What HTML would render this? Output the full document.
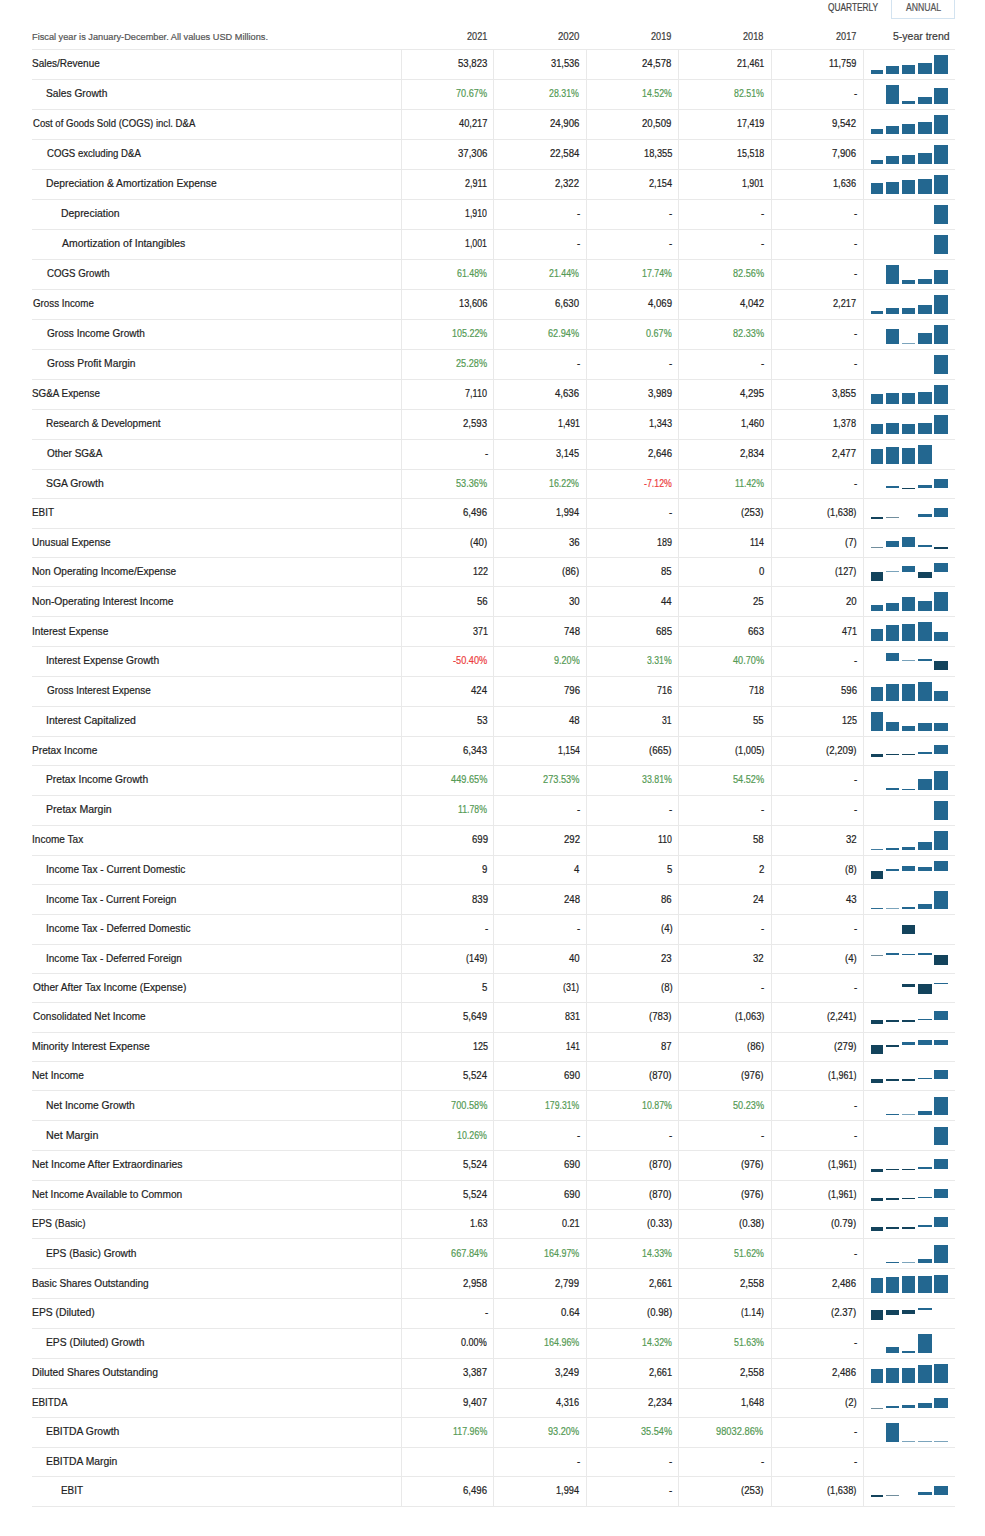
<!DOCTYPE html><html><head><meta charset="utf-8"><style>
html,body{margin:0;padding:0;background:#fff;}
body{width:985px;height:1536px;position:relative;overflow:hidden;font-family:"Liberation Sans",sans-serif;}
.t{position:absolute;white-space:nowrap;line-height:12px;font-size:11.2px;color:#222;transform-origin:0 50%;-webkit-text-stroke:0.2px currentColor;}
.l{transform-origin:0 50%;}
.r{transform-origin:100% 50%;text-align:right;}
.h{position:absolute;height:1px;background:#e9e9e9;left:32px;width:923px;}
.v{position:absolute;width:1px;background:#e9e9e9;}
.b{position:absolute;}
</style></head><body>

<div class="t" style="top:2px;left:827.50px;font-size:10px;color:#444;transform:scaleX(0.8333);-webkit-text-stroke:0.2px #444;">QUARTERLY</div>
<div style="position:absolute;left:891px;top:-2px;border:1px solid #d3e3f0;box-sizing:border-box;width:64px;height:20.5px"></div>
<div class="t" style="top:2px;left:906.00px;font-size:10px;color:#555;transform:scaleX(0.8650);-webkit-text-stroke:0.2px #555;">ANNUAL</div>
<div class="t" style="top:31px;left:32.04px;font-size:9.6px;color:#555;transform:scaleX(0.9602);">Fiscal year is January-December. All values USD Millions.</div>
<div class="t" style="top:30px;left:466.76px;color:#3a3a3a;transform:scaleX(0.8175);">2021</div>
<div class="t" style="top:30px;left:558.00px;color:#3a3a3a;transform:scaleX(0.8600);">2020</div>
<div class="t" style="top:30px;left:651.26px;color:#3a3a3a;transform:scaleX(0.8175);">2019</div>
<div class="t" style="top:30px;left:743.36px;color:#3a3a3a;transform:scaleX(0.8175);">2018</div>
<div class="t" style="top:30px;left:835.76px;color:#3a3a3a;transform:scaleX(0.8175);">2017</div>
<div class="t" style="top:30px;left:892.66px;color:#3a3a3a;transform:scaleX(0.9390);">5-year trend</div>
<div class="h" style="top:49px"></div>
<div class="h" style="top:79px"></div>
<div class="h" style="top:109px"></div>
<div class="h" style="top:139px"></div>
<div class="h" style="top:169px"></div>
<div class="h" style="top:199px"></div>
<div class="h" style="top:229px"></div>
<div class="h" style="top:259px"></div>
<div class="h" style="top:289px"></div>
<div class="h" style="top:319px"></div>
<div class="h" style="top:349px"></div>
<div class="h" style="top:379px"></div>
<div class="h" style="top:409px"></div>
<div class="h" style="top:439px"></div>
<div class="h" style="top:469px"></div>
<div class="h" style="top:498px"></div>
<div class="h" style="top:528px"></div>
<div class="h" style="top:557px"></div>
<div class="h" style="top:586px"></div>
<div class="h" style="top:616px"></div>
<div class="h" style="top:646px"></div>
<div class="h" style="top:676px"></div>
<div class="h" style="top:706px"></div>
<div class="h" style="top:736px"></div>
<div class="h" style="top:765px"></div>
<div class="h" style="top:795px"></div>
<div class="h" style="top:825px"></div>
<div class="h" style="top:855px"></div>
<div class="h" style="top:884px"></div>
<div class="h" style="top:914px"></div>
<div class="h" style="top:944px"></div>
<div class="h" style="top:973px"></div>
<div class="h" style="top:1002px"></div>
<div class="h" style="top:1032px"></div>
<div class="h" style="top:1061px"></div>
<div class="h" style="top:1090px"></div>
<div class="h" style="top:1120px"></div>
<div class="h" style="top:1150px"></div>
<div class="h" style="top:1180px"></div>
<div class="h" style="top:1209px"></div>
<div class="h" style="top:1238px"></div>
<div class="h" style="top:1268px"></div>
<div class="h" style="top:1298px"></div>
<div class="h" style="top:1328px"></div>
<div class="h" style="top:1358px"></div>
<div class="h" style="top:1388px"></div>
<div class="h" style="top:1417px"></div>
<div class="h" style="top:1447px"></div>
<div class="h" style="top:1476px"></div>
<div class="h" style="top:1506px"></div>
<div class="v" style="left:401px;top:49px;height:1457px"></div>
<div class="v" style="left:493px;top:49px;height:1457px"></div>
<div class="v" style="left:586px;top:49px;height:1457px"></div>
<div class="v" style="left:678px;top:49px;height:1457px"></div>
<div class="v" style="left:771px;top:49px;height:1457px"></div>
<div class="v" style="left:863px;top:49px;height:1457px"></div>
<div class="t" style="top:57px;left:31.91px;transform:scaleX(0.8933);">Sales/Revenue</div>
<div class="t" style="top:57px;left:457.96px;transform:scaleX(0.8600);">53,823</div>
<div class="t" style="top:57px;left:551.31px;transform:scaleX(0.8291);">31,536</div>
<div class="t" style="top:57px;left:642.46px;transform:scaleX(0.8600);">24,578</div>
<div class="t" style="top:57px;left:736.66px;transform:scaleX(0.7982);">21,461</div>
<div class="t" style="top:57px;left:829.21px;transform:scaleX(0.8180);">11,759</div>
<div class="b" style="left:870.90px;width:12.10px;top:69.78px;height:4.10px;background:#236790;"></div>
<div class="b" style="left:886.10px;width:13.20px;top:66.40px;height:7.48px;background:#236790;"></div>
<div class="b" style="left:902.10px;width:13.30px;top:65.31px;height:8.56px;background:#236790;"></div>
<div class="b" style="left:918.30px;width:13.30px;top:62.89px;height:10.99px;background:#236790;"></div>
<div class="b" style="left:934.40px;width:13.30px;top:55.12px;height:18.75px;background:#236790;"></div>
<div class="t" style="top:87px;left:45.99px;transform:scaleX(0.9136);">Sales Growth</div>
<div class="t" style="top:87px;left:456.11px;color:#549a54;transform:scaleX(0.8181);">70.67%</div>
<div class="t" style="top:87px;left:549.47px;color:#549a54;transform:scaleX(0.7902);">28.31%</div>
<div class="t" style="top:87px;left:641.67px;color:#549a54;transform:scaleX(0.7902);">14.52%</div>
<div class="t" style="top:87px;left:733.77px;color:#549a54;transform:scaleX(0.7902);">82.51%</div>
<div class="t" style="top:87px;left:853.62px;transform:scaleX(0.8600);">-</div>
<div class="b" style="left:886.10px;width:13.20px;top:85.12px;height:18.75px;background:#236790;"></div>
<div class="b" style="left:902.10px;width:13.30px;top:100.58px;height:3.30px;background:#236790;"></div>
<div class="b" style="left:918.30px;width:13.30px;top:97.44px;height:6.43px;background:#236790;"></div>
<div class="b" style="left:934.40px;width:13.30px;top:87.82px;height:16.06px;background:#236790;"></div>
<div class="t" style="top:117px;left:32.80px;transform:scaleX(0.8558);">Cost of Goods Sold (COGS) incl. D&amp;A</div>
<div class="t" style="top:117px;left:459.01px;transform:scaleX(0.8291);">40,217</div>
<div class="t" style="top:117px;left:550.26px;transform:scaleX(0.8600);">24,906</div>
<div class="t" style="top:117px;left:642.46px;transform:scaleX(0.8600);">20,509</div>
<div class="t" style="top:117px;left:736.66px;transform:scaleX(0.7982);">17,419</div>
<div class="t" style="top:117px;left:832.12px;transform:scaleX(0.8600);">9,542</div>
<div class="b" style="left:870.90px;width:12.10px;top:129.43px;height:4.45px;background:#236790;"></div>
<div class="b" style="left:886.10px;width:13.20px;top:125.75px;height:8.12px;background:#236790;"></div>
<div class="b" style="left:902.10px;width:13.30px;top:124.31px;height:9.56px;background:#236790;"></div>
<div class="b" style="left:918.30px;width:13.30px;top:122.26px;height:11.61px;background:#236790;"></div>
<div class="b" style="left:934.40px;width:13.30px;top:115.12px;height:18.75px;background:#236790;"></div>
<div class="t" style="top:147px;left:46.90px;transform:scaleX(0.8573);">COGS excluding D&amp;A</div>
<div class="t" style="top:147px;left:457.96px;transform:scaleX(0.8600);">37,306</div>
<div class="t" style="top:147px;left:550.26px;transform:scaleX(0.8600);">22,584</div>
<div class="t" style="top:147px;left:643.51px;transform:scaleX(0.8291);">18,355</div>
<div class="t" style="top:147px;left:736.66px;transform:scaleX(0.7982);">15,518</div>
<div class="t" style="top:147px;left:832.12px;transform:scaleX(0.8600);">7,906</div>
<div class="b" style="left:870.90px;width:12.10px;top:159.90px;height:3.97px;background:#236790;"></div>
<div class="b" style="left:886.10px;width:13.20px;top:156.08px;height:7.80px;background:#236790;"></div>
<div class="b" style="left:902.10px;width:13.30px;top:154.65px;height:9.23px;background:#236790;"></div>
<div class="b" style="left:918.30px;width:13.30px;top:152.52px;height:11.35px;background:#236790;"></div>
<div class="b" style="left:934.40px;width:13.30px;top:145.12px;height:18.75px;background:#236790;"></div>
<div class="t" style="top:177px;left:45.98px;transform:scaleX(0.9240);">Depreciation &amp; Amortization Expense</div>
<div class="t" style="top:177px;left:465.37px;transform:scaleX(0.8084);">2,911</div>
<div class="t" style="top:177px;left:555.42px;transform:scaleX(0.8600);">2,322</div>
<div class="t" style="top:177px;left:648.68px;transform:scaleX(0.8222);">2,154</div>
<div class="t" style="top:177px;left:741.84px;transform:scaleX(0.7844);">1,901</div>
<div class="t" style="top:177px;left:833.18px;transform:scaleX(0.8222);">1,636</div>
<div class="b" style="left:870.90px;width:12.10px;top:183.34px;height:10.54px;background:#236790;"></div>
<div class="b" style="left:886.10px;width:13.20px;top:181.63px;height:12.24px;background:#236790;"></div>
<div class="b" style="left:902.10px;width:13.30px;top:180.00px;height:13.87px;background:#236790;"></div>
<div class="b" style="left:918.30px;width:13.30px;top:178.92px;height:14.96px;background:#236790;"></div>
<div class="b" style="left:934.40px;width:13.30px;top:175.12px;height:18.75px;background:#236790;"></div>
<div class="t" style="top:207px;left:60.97px;transform:scaleX(0.9328);">Depreciation</div>
<div class="t" style="top:207px;left:465.24px;transform:scaleX(0.7844);">1,910</div>
<div class="t" style="top:207px;left:576.92px;transform:scaleX(0.8600);">-</div>
<div class="t" style="top:207px;left:669.12px;transform:scaleX(0.8600);">-</div>
<div class="t" style="top:207px;left:761.22px;transform:scaleX(0.8600);">-</div>
<div class="t" style="top:207px;left:853.62px;transform:scaleX(0.8600);">-</div>
<div class="b" style="left:934.40px;width:13.30px;top:205.12px;height:18.75px;background:#236790;"></div>
<div class="t" style="top:237px;left:61.90px;transform:scaleX(0.9356);">Amortization of Intangibles</div>
<div class="t" style="top:237px;left:465.24px;transform:scaleX(0.7844);">1,001</div>
<div class="t" style="top:237px;left:576.92px;transform:scaleX(0.8600);">-</div>
<div class="t" style="top:237px;left:669.12px;transform:scaleX(0.8600);">-</div>
<div class="t" style="top:237px;left:761.22px;transform:scaleX(0.8600);">-</div>
<div class="t" style="top:237px;left:853.62px;transform:scaleX(0.8600);">-</div>
<div class="b" style="left:934.40px;width:13.30px;top:235.12px;height:18.75px;background:#236790;"></div>
<div class="t" style="top:267px;left:46.90px;transform:scaleX(0.8681);">COGS Growth</div>
<div class="t" style="top:267px;left:457.17px;color:#549a54;transform:scaleX(0.7902);">61.48%</div>
<div class="t" style="top:267px;left:549.47px;color:#549a54;transform:scaleX(0.7902);">21.44%</div>
<div class="t" style="top:267px;left:641.67px;color:#549a54;transform:scaleX(0.7902);">17.74%</div>
<div class="t" style="top:267px;left:732.71px;color:#549a54;transform:scaleX(0.8181);">82.56%</div>
<div class="t" style="top:267px;left:853.62px;transform:scaleX(0.8600);">-</div>
<div class="b" style="left:886.10px;width:13.20px;top:265.12px;height:18.75px;background:#236790;"></div>
<div class="b" style="left:902.10px;width:13.30px;top:279.85px;height:4.03px;background:#236790;"></div>
<div class="b" style="left:918.30px;width:13.30px;top:279.01px;height:4.87px;background:#236790;"></div>
<div class="b" style="left:934.40px;width:13.30px;top:269.91px;height:13.96px;background:#236790;"></div>
<div class="t" style="top:297px;left:32.80px;transform:scaleX(0.8739);">Gross Income</div>
<div class="t" style="top:297px;left:459.01px;transform:scaleX(0.8291);">13,606</div>
<div class="t" style="top:297px;left:555.42px;transform:scaleX(0.8600);">6,630</div>
<div class="t" style="top:297px;left:647.62px;transform:scaleX(0.8600);">4,069</div>
<div class="t" style="top:297px;left:739.72px;transform:scaleX(0.8600);">4,042</div>
<div class="t" style="top:297px;left:833.18px;transform:scaleX(0.8222);">2,217</div>
<div class="b" style="left:870.90px;width:12.10px;top:310.82px;height:3.06px;background:#236790;"></div>
<div class="b" style="left:886.10px;width:13.20px;top:308.30px;height:5.57px;background:#236790;"></div>
<div class="b" style="left:902.10px;width:13.30px;top:308.27px;height:5.61px;background:#236790;"></div>
<div class="b" style="left:918.30px;width:13.30px;top:304.74px;height:9.14px;background:#236790;"></div>
<div class="b" style="left:934.40px;width:13.30px;top:295.12px;height:18.75px;background:#236790;"></div>
<div class="t" style="top:327px;left:46.90px;transform:scaleX(0.9000);">Gross Income Growth</div>
<div class="t" style="top:327px;left:452.00px;color:#549a54;transform:scaleX(0.8000);">105.22%</div>
<div class="t" style="top:327px;left:548.41px;color:#549a54;transform:scaleX(0.8181);">62.94%</div>
<div class="t" style="top:327px;left:645.79px;color:#549a54;transform:scaleX(0.8098);">0.67%</div>
<div class="t" style="top:327px;left:732.71px;color:#549a54;transform:scaleX(0.8181);">82.33%</div>
<div class="t" style="top:327px;left:853.62px;transform:scaleX(0.8600);">-</div>
<div class="b" style="left:886.10px;width:13.20px;top:329.20px;height:14.67px;background:#236790;"></div>
<div class="b" style="left:902.10px;width:13.30px;top:342.88px;height:1.00px;background:#236790;opacity:0.60"></div>
<div class="b" style="left:918.30px;width:13.30px;top:332.66px;height:11.22px;background:#236790;"></div>
<div class="b" style="left:934.40px;width:13.30px;top:325.12px;height:18.75px;background:#236790;"></div>
<div class="t" style="top:357px;left:46.90px;transform:scaleX(0.9188);">Gross Profit Margin</div>
<div class="t" style="top:357px;left:456.11px;color:#549a54;transform:scaleX(0.8181);">25.28%</div>
<div class="t" style="top:357px;left:576.92px;transform:scaleX(0.8600);">-</div>
<div class="t" style="top:357px;left:669.12px;transform:scaleX(0.8600);">-</div>
<div class="t" style="top:357px;left:761.22px;transform:scaleX(0.8600);">-</div>
<div class="t" style="top:357px;left:853.62px;transform:scaleX(0.8600);">-</div>
<div class="b" style="left:934.40px;width:13.30px;top:355.12px;height:18.75px;background:#236790;"></div>
<div class="t" style="top:387px;left:31.92px;transform:scaleX(0.8816);">SG&amp;A Expense</div>
<div class="t" style="top:387px;left:465.37px;transform:scaleX(0.8084);">7,110</div>
<div class="t" style="top:387px;left:555.42px;transform:scaleX(0.8600);">4,636</div>
<div class="t" style="top:387px;left:647.62px;transform:scaleX(0.8600);">3,989</div>
<div class="t" style="top:387px;left:739.72px;transform:scaleX(0.8600);">4,295</div>
<div class="t" style="top:387px;left:832.12px;transform:scaleX(0.8600);">3,855</div>
<div class="b" style="left:870.90px;width:12.10px;top:393.71px;height:10.17px;background:#236790;"></div>
<div class="b" style="left:886.10px;width:13.20px;top:392.55px;height:11.33px;background:#236790;"></div>
<div class="b" style="left:902.10px;width:13.30px;top:393.36px;height:10.52px;background:#236790;"></div>
<div class="b" style="left:918.30px;width:13.30px;top:391.65px;height:12.23px;background:#236790;"></div>
<div class="b" style="left:934.40px;width:13.30px;top:385.12px;height:18.75px;background:#236790;"></div>
<div class="t" style="top:417px;left:46.00px;transform:scaleX(0.8984);">Research &amp; Development</div>
<div class="t" style="top:417px;left:463.12px;transform:scaleX(0.8600);">2,593</div>
<div class="t" style="top:417px;left:557.54px;transform:scaleX(0.7844);">1,491</div>
<div class="t" style="top:417px;left:648.68px;transform:scaleX(0.8222);">1,343</div>
<div class="t" style="top:417px;left:740.78px;transform:scaleX(0.8222);">1,460</div>
<div class="t" style="top:417px;left:833.18px;transform:scaleX(0.8222);">1,378</div>
<div class="b" style="left:870.90px;width:12.10px;top:423.91px;height:9.96px;background:#236790;"></div>
<div class="b" style="left:886.10px;width:13.20px;top:423.32px;height:10.56px;background:#236790;"></div>
<div class="b" style="left:902.10px;width:13.30px;top:424.16px;height:9.71px;background:#236790;"></div>
<div class="b" style="left:918.30px;width:13.30px;top:423.09px;height:10.78px;background:#236790;"></div>
<div class="b" style="left:934.40px;width:13.30px;top:415.12px;height:18.75px;background:#236790;"></div>
<div class="t" style="top:447px;left:46.90px;transform:scaleX(0.8903);">Other SG&amp;A</div>
<div class="t" style="top:447px;left:484.62px;transform:scaleX(0.8600);">-</div>
<div class="t" style="top:447px;left:556.48px;transform:scaleX(0.8222);">3,145</div>
<div class="t" style="top:447px;left:647.62px;transform:scaleX(0.8600);">2,646</div>
<div class="t" style="top:447px;left:739.72px;transform:scaleX(0.8600);">2,834</div>
<div class="t" style="top:447px;left:832.12px;transform:scaleX(0.8600);">2,477</div>
<div class="b" style="left:870.90px;width:12.10px;top:449.11px;height:14.77px;background:#236790;"></div>
<div class="b" style="left:886.10px;width:13.20px;top:446.98px;height:16.90px;background:#236790;"></div>
<div class="b" style="left:902.10px;width:13.30px;top:448.10px;height:15.78px;background:#236790;"></div>
<div class="b" style="left:918.30px;width:13.30px;top:445.12px;height:18.75px;background:#236790;"></div>
<div class="t" style="top:477px;left:45.97px;transform:scaleX(0.9295);">SGA Growth</div>
<div class="t" style="top:477px;left:456.11px;color:#549a54;transform:scaleX(0.8181);">53.36%</div>
<div class="t" style="top:477px;left:549.47px;color:#549a54;transform:scaleX(0.7902);">16.22%</div>
<div class="t" style="top:477px;left:644.22px;color:#ec3d3d;transform:scaleX(0.7853);">-7.12%</div>
<div class="t" style="top:477px;left:734.96px;color:#549a54;transform:scaleX(0.7794);">11.42%</div>
<div class="t" style="top:477px;left:853.62px;transform:scaleX(0.8600);">-</div>
<div class="b" style="left:886.10px;width:13.20px;top:486.23px;height:2.01px;background:#236790;"></div>
<div class="b" style="left:902.10px;width:13.30px;top:488.23px;height:1.25px;background:#13435c;"></div>
<div class="b" style="left:918.30px;width:13.30px;top:485.38px;height:2.85px;background:#236790;"></div>
<div class="b" style="left:934.40px;width:13.30px;top:478.86px;height:9.38px;background:#236790;"></div>
<div class="t" style="top:506px;left:31.92px;transform:scaleX(0.8833);">EBIT</div>
<div class="t" style="top:506px;left:463.12px;transform:scaleX(0.8600);">6,496</div>
<div class="t" style="top:506px;left:556.48px;transform:scaleX(0.8222);">1,994</div>
<div class="t" style="top:506px;left:669.12px;transform:scaleX(0.8600);">-</div>
<div class="t" style="top:506px;left:741.44px;transform:scaleX(0.8600);">(253)</div>
<div class="t" style="top:506px;left:827.14px;transform:scaleX(0.8302);">(1,638)</div>
<div class="b" style="left:870.90px;width:12.10px;top:517.02px;height:2.36px;background:#13435c;"></div>
<div class="b" style="left:886.10px;width:13.20px;top:517.02px;height:1.00px;background:#13435c;opacity:0.60"></div>
<div class="b" style="left:918.30px;width:13.30px;top:514.14px;height:2.88px;background:#236790;"></div>
<div class="b" style="left:934.40px;width:13.30px;top:507.64px;height:9.38px;background:#236790;"></div>
<div class="t" style="top:536px;left:31.90px;transform:scaleX(0.8965);">Unusual Expense</div>
<div class="t" style="top:536px;left:470.00px;transform:scaleX(0.8600);">(40)</div>
<div class="t" style="top:536px;left:569.18px;transform:scaleX(0.8600);">36</div>
<div class="t" style="top:536px;left:657.24px;transform:scaleX(0.8033);">189</div>
<div class="t" style="top:536px;left:749.73px;transform:scaleX(0.7814);">114</div>
<div class="t" style="top:536px;left:845.02px;transform:scaleX(0.8600);">(7)</div>
<div class="b" style="left:870.90px;width:12.10px;top:546.55px;height:1.00px;background:#13435c;opacity:0.60"></div>
<div class="b" style="left:886.10px;width:13.20px;top:540.89px;height:5.65px;background:#236790;"></div>
<div class="b" style="left:902.10px;width:13.30px;top:537.17px;height:9.38px;background:#236790;"></div>
<div class="b" style="left:918.30px;width:13.30px;top:544.76px;height:1.79px;background:#236790;"></div>
<div class="b" style="left:934.40px;width:13.30px;top:546.55px;height:1.98px;background:#13435c;"></div>
<div class="t" style="top:565px;left:31.89px;transform:scaleX(0.9051);">Non Operating Income/Expense</div>
<div class="t" style="top:565px;left:472.74px;transform:scaleX(0.8033);">122</div>
<div class="t" style="top:565px;left:562.30px;transform:scaleX(0.8600);">(86)</div>
<div class="t" style="top:565px;left:661.38px;transform:scaleX(0.8600);">85</div>
<div class="t" style="top:565px;left:758.64px;transform:scaleX(0.8600);">0</div>
<div class="t" style="top:565px;left:834.89px;transform:scaleX(0.8195);">(127)</div>
<div class="b" style="left:870.90px;width:12.10px;top:572.01px;height:9.38px;background:#13435c;"></div>
<div class="b" style="left:886.10px;width:13.20px;top:571.01px;height:1.00px;background:#236790;opacity:0.60"></div>
<div class="b" style="left:902.10px;width:13.30px;top:565.73px;height:6.27px;background:#236790;"></div>
<div class="b" style="left:918.30px;width:13.30px;top:572.01px;height:6.35px;background:#13435c;"></div>
<div class="b" style="left:934.40px;width:13.30px;top:563.00px;height:9.01px;background:#236790;"></div>
<div class="t" style="top:595px;left:31.88px;transform:scaleX(0.9217);">Non-Operating Interest Income</div>
<div class="t" style="top:595px;left:476.88px;transform:scaleX(0.8600);">56</div>
<div class="t" style="top:595px;left:569.18px;transform:scaleX(0.8600);">30</div>
<div class="t" style="top:595px;left:661.38px;transform:scaleX(0.8600);">44</div>
<div class="t" style="top:595px;left:753.48px;transform:scaleX(0.8600);">25</div>
<div class="t" style="top:595px;left:845.88px;transform:scaleX(0.8600);">20</div>
<div class="b" style="left:870.90px;width:12.10px;top:604.54px;height:6.70px;background:#236790;"></div>
<div class="b" style="left:886.10px;width:13.20px;top:602.86px;height:8.37px;background:#236790;"></div>
<div class="b" style="left:902.10px;width:13.30px;top:596.50px;height:14.73px;background:#236790;"></div>
<div class="b" style="left:918.30px;width:13.30px;top:601.19px;height:10.04px;background:#236790;"></div>
<div class="b" style="left:934.40px;width:13.30px;top:592.49px;height:18.75px;background:#236790;"></div>
<div class="t" style="top:625px;left:31.89px;transform:scaleX(0.9096);">Interest Expense</div>
<div class="t" style="top:625px;left:472.74px;transform:scaleX(0.8033);">371</div>
<div class="t" style="top:625px;left:564.02px;transform:scaleX(0.8600);">748</div>
<div class="t" style="top:625px;left:656.22px;transform:scaleX(0.8600);">685</div>
<div class="t" style="top:625px;left:748.32px;transform:scaleX(0.8600);">663</div>
<div class="t" style="top:625px;left:841.74px;transform:scaleX(0.8033);">471</div>
<div class="b" style="left:870.90px;width:12.10px;top:629.43px;height:11.81px;background:#236790;"></div>
<div class="b" style="left:886.10px;width:13.20px;top:624.62px;height:16.62px;background:#236790;"></div>
<div class="b" style="left:902.10px;width:13.30px;top:624.06px;height:17.17px;background:#236790;"></div>
<div class="b" style="left:918.30px;width:13.30px;top:622.49px;height:18.75px;background:#236790;"></div>
<div class="b" style="left:934.40px;width:13.30px;top:631.94px;height:9.30px;background:#236790;"></div>
<div class="t" style="top:654px;left:45.98px;transform:scaleX(0.9189);">Interest Expense Growth</div>
<div class="t" style="top:654px;left:452.68px;color:#ec3d3d;transform:scaleX(0.8218);">-50.40%</div>
<div class="t" style="top:654px;left:553.59px;color:#549a54;transform:scaleX(0.8098);">9.20%</div>
<div class="t" style="top:654px;left:646.85px;color:#549a54;transform:scaleX(0.7765);">3.31%</div>
<div class="t" style="top:654px;left:732.71px;color:#549a54;transform:scaleX(0.8181);">40.70%</div>
<div class="t" style="top:654px;left:853.62px;transform:scaleX(0.8600);">-</div>
<div class="b" style="left:886.10px;width:13.20px;top:653.06px;height:7.57px;background:#236790;"></div>
<div class="b" style="left:902.10px;width:13.30px;top:659.63px;height:1.00px;background:#236790;opacity:0.62"></div>
<div class="b" style="left:918.30px;width:13.30px;top:658.92px;height:1.71px;background:#236790;"></div>
<div class="b" style="left:934.40px;width:13.30px;top:660.63px;height:9.38px;background:#13435c;"></div>
<div class="t" style="top:684px;left:46.90px;transform:scaleX(0.8880);">Gross Interest Expense</div>
<div class="t" style="top:684px;left:470.86px;transform:scaleX(0.8600);">424</div>
<div class="t" style="top:684px;left:564.02px;transform:scaleX(0.8600);">796</div>
<div class="t" style="top:684px;left:657.24px;transform:scaleX(0.8033);">716</div>
<div class="t" style="top:684px;left:749.34px;transform:scaleX(0.8033);">718</div>
<div class="t" style="top:684px;left:840.72px;transform:scaleX(0.8600);">596</div>
<div class="b" style="left:870.90px;width:12.10px;top:686.54px;height:14.04px;background:#236790;"></div>
<div class="b" style="left:886.10px;width:13.20px;top:683.66px;height:16.91px;background:#236790;"></div>
<div class="b" style="left:902.10px;width:13.30px;top:683.71px;height:16.87px;background:#236790;"></div>
<div class="b" style="left:918.30px;width:13.30px;top:681.83px;height:18.75px;background:#236790;"></div>
<div class="b" style="left:934.40px;width:13.30px;top:690.59px;height:9.99px;background:#236790;"></div>
<div class="t" style="top:714px;left:45.96px;transform:scaleX(0.9383);">Interest Capitalized</div>
<div class="t" style="top:714px;left:476.88px;transform:scaleX(0.8600);">53</div>
<div class="t" style="top:714px;left:569.18px;transform:scaleX(0.8600);">48</div>
<div class="t" style="top:714px;left:662.40px;transform:scaleX(0.7750);">31</div>
<div class="t" style="top:714px;left:753.48px;transform:scaleX(0.8600);">55</div>
<div class="t" style="top:714px;left:841.74px;transform:scaleX(0.8033);">125</div>
<div class="b" style="left:870.90px;width:12.10px;top:711.83px;height:18.75px;background:#236790;"></div>
<div class="b" style="left:886.10px;width:13.20px;top:722.33px;height:8.25px;background:#236790;"></div>
<div class="b" style="left:902.10px;width:13.30px;top:725.93px;height:4.65px;background:#236790;"></div>
<div class="b" style="left:918.30px;width:13.30px;top:723.38px;height:7.20px;background:#236790;"></div>
<div class="b" style="left:934.40px;width:13.30px;top:722.62px;height:7.95px;background:#236790;"></div>
<div class="t" style="top:744px;left:31.89px;transform:scaleX(0.9056);">Pretax Income</div>
<div class="t" style="top:744px;left:463.12px;transform:scaleX(0.8600);">6,343</div>
<div class="t" style="top:744px;left:557.54px;transform:scaleX(0.7844);">1,154</div>
<div class="t" style="top:744px;left:649.34px;transform:scaleX(0.8600);">(665)</div>
<div class="t" style="top:744px;left:734.74px;transform:scaleX(0.8302);">(1,005)</div>
<div class="t" style="top:744px;left:826.10px;transform:scaleX(0.8600);">(2,209)</div>
<div class="b" style="left:870.90px;width:12.10px;top:753.93px;height:3.26px;background:#13435c;"></div>
<div class="b" style="left:886.10px;width:13.20px;top:753.93px;height:1.49px;background:#13435c;"></div>
<div class="b" style="left:902.10px;width:13.30px;top:753.93px;height:1.00px;background:#13435c;opacity:0.98"></div>
<div class="b" style="left:918.30px;width:13.30px;top:752.22px;height:1.71px;background:#236790;"></div>
<div class="b" style="left:934.40px;width:13.30px;top:744.55px;height:9.38px;background:#236790;"></div>
<div class="t" style="top:773px;left:45.98px;transform:scaleX(0.9182);">Pretax Income Growth</div>
<div class="t" style="top:773px;left:450.95px;color:#549a54;transform:scaleX(0.8240);">449.65%</div>
<div class="t" style="top:773px;left:543.25px;color:#549a54;transform:scaleX(0.8240);">273.53%</div>
<div class="t" style="top:773px;left:641.67px;color:#549a54;transform:scaleX(0.7902);">33.81%</div>
<div class="t" style="top:773px;left:732.71px;color:#549a54;transform:scaleX(0.8181);">54.52%</div>
<div class="t" style="top:773px;left:853.62px;transform:scaleX(0.8600);">-</div>
<div class="b" style="left:886.10px;width:13.20px;top:787.64px;height:2.27px;background:#236790;"></div>
<div class="b" style="left:902.10px;width:13.30px;top:788.51px;height:1.41px;background:#236790;"></div>
<div class="b" style="left:918.30px;width:13.30px;top:778.51px;height:11.41px;background:#236790;"></div>
<div class="b" style="left:934.40px;width:13.30px;top:771.17px;height:18.75px;background:#236790;"></div>
<div class="t" style="top:803px;left:45.96px;transform:scaleX(0.9426);">Pretax Margin</div>
<div class="t" style="top:803px;left:458.36px;color:#549a54;transform:scaleX(0.7794);">11.78%</div>
<div class="t" style="top:803px;left:576.92px;transform:scaleX(0.8600);">-</div>
<div class="t" style="top:803px;left:669.12px;transform:scaleX(0.8600);">-</div>
<div class="t" style="top:803px;left:761.22px;transform:scaleX(0.8600);">-</div>
<div class="t" style="top:803px;left:853.62px;transform:scaleX(0.8600);">-</div>
<div class="b" style="left:934.40px;width:13.30px;top:801.17px;height:18.75px;background:#236790;"></div>
<div class="t" style="top:833px;left:31.90px;transform:scaleX(0.8982);">Income Tax</div>
<div class="t" style="top:833px;left:471.72px;transform:scaleX(0.8600);">699</div>
<div class="t" style="top:833px;left:564.02px;transform:scaleX(0.8600);">292</div>
<div class="t" style="top:833px;left:658.42px;transform:scaleX(0.7814);">110</div>
<div class="t" style="top:833px;left:753.48px;transform:scaleX(0.8600);">58</div>
<div class="t" style="top:833px;left:845.88px;transform:scaleX(0.8600);">32</div>
<div class="b" style="left:870.90px;width:12.10px;top:848.92px;height:1.00px;background:#236790;opacity:0.86"></div>
<div class="b" style="left:886.10px;width:13.20px;top:848.36px;height:1.56px;background:#236790;"></div>
<div class="b" style="left:902.10px;width:13.30px;top:846.96px;height:2.95px;background:#236790;"></div>
<div class="b" style="left:918.30px;width:13.30px;top:842.08px;height:7.83px;background:#236790;"></div>
<div class="b" style="left:934.40px;width:13.30px;top:831.17px;height:18.75px;background:#236790;"></div>
<div class="t" style="top:863px;left:46.00px;transform:scaleX(0.9039);">Income Tax - Current Domestic</div>
<div class="t" style="top:863px;left:482.04px;transform:scaleX(0.8600);">9</div>
<div class="t" style="top:863px;left:574.34px;transform:scaleX(0.8600);">4</div>
<div class="t" style="top:863px;left:666.54px;transform:scaleX(0.8600);">5</div>
<div class="t" style="top:863px;left:758.64px;transform:scaleX(0.8600);">2</div>
<div class="t" style="top:863px;left:845.02px;transform:scaleX(0.8600);">(8)</div>
<div class="b" style="left:870.90px;width:12.10px;top:870.73px;height:8.33px;background:#13435c;"></div>
<div class="b" style="left:886.10px;width:13.20px;top:868.65px;height:2.08px;background:#236790;"></div>
<div class="b" style="left:902.10px;width:13.30px;top:865.52px;height:5.21px;background:#236790;"></div>
<div class="b" style="left:918.30px;width:13.30px;top:866.56px;height:4.17px;background:#236790;"></div>
<div class="b" style="left:934.40px;width:13.30px;top:861.36px;height:9.38px;background:#236790;"></div>
<div class="t" style="top:893px;left:46.00px;transform:scaleX(0.8979);">Income Tax - Current Foreign</div>
<div class="t" style="top:893px;left:471.72px;transform:scaleX(0.8600);">839</div>
<div class="t" style="top:893px;left:564.02px;transform:scaleX(0.8600);">248</div>
<div class="t" style="top:893px;left:661.38px;transform:scaleX(0.8600);">86</div>
<div class="t" style="top:893px;left:753.48px;transform:scaleX(0.8600);">24</div>
<div class="t" style="top:893px;left:845.88px;transform:scaleX(0.8600);">43</div>
<div class="b" style="left:870.90px;width:12.10px;top:908.26px;height:1.00px;background:#236790;opacity:0.96"></div>
<div class="b" style="left:886.10px;width:13.20px;top:908.26px;height:1.00px;background:#236790;opacity:0.60"></div>
<div class="b" style="left:902.10px;width:13.30px;top:907.33px;height:1.92px;background:#236790;"></div>
<div class="b" style="left:918.30px;width:13.30px;top:903.71px;height:5.54px;background:#236790;"></div>
<div class="b" style="left:934.40px;width:13.30px;top:890.51px;height:18.75px;background:#236790;"></div>
<div class="t" style="top:922px;left:46.00px;transform:scaleX(0.9019);">Income Tax - Deferred Domestic</div>
<div class="t" style="top:922px;left:484.62px;transform:scaleX(0.8600);">-</div>
<div class="t" style="top:922px;left:576.92px;transform:scaleX(0.8600);">-</div>
<div class="t" style="top:922px;left:660.52px;transform:scaleX(0.8600);">(4)</div>
<div class="t" style="top:922px;left:761.22px;transform:scaleX(0.8600);">-</div>
<div class="t" style="top:922px;left:853.62px;transform:scaleX(0.8600);">-</div>
<div class="b" style="left:902.10px;width:13.30px;top:924.86px;height:9.38px;background:#13435c;"></div>
<div class="t" style="top:952px;left:46.00px;transform:scaleX(0.8967);">Income Tax - Deferred Foreign</div>
<div class="t" style="top:952px;left:465.89px;transform:scaleX(0.8195);">(149)</div>
<div class="t" style="top:952px;left:569.18px;transform:scaleX(0.8600);">40</div>
<div class="t" style="top:952px;left:661.38px;transform:scaleX(0.8600);">23</div>
<div class="t" style="top:952px;left:753.48px;transform:scaleX(0.8600);">32</div>
<div class="t" style="top:952px;left:845.02px;transform:scaleX(0.8600);">(4)</div>
<div class="b" style="left:870.90px;width:12.10px;top:955.46px;height:1.00px;background:#13435c;opacity:0.60"></div>
<div class="b" style="left:886.10px;width:13.20px;top:953.45px;height:2.01px;background:#236790;"></div>
<div class="b" style="left:902.10px;width:13.30px;top:954.01px;height:1.45px;background:#236790;"></div>
<div class="b" style="left:918.30px;width:13.30px;top:952.94px;height:2.52px;background:#236790;"></div>
<div class="b" style="left:934.40px;width:13.30px;top:955.46px;height:9.38px;background:#13435c;"></div>
<div class="t" style="top:981px;left:32.80px;transform:scaleX(0.9107);">Other After Tax Income (Expense)</div>
<div class="t" style="top:981px;left:482.04px;transform:scaleX(0.8600);">5</div>
<div class="t" style="top:981px;left:563.36px;transform:scaleX(0.8068);">(31)</div>
<div class="t" style="top:981px;left:660.52px;transform:scaleX(0.8600);">(8)</div>
<div class="t" style="top:981px;left:761.22px;transform:scaleX(0.8600);">-</div>
<div class="t" style="top:981px;left:853.62px;transform:scaleX(0.8600);">-</div>
<div class="b" style="left:902.10px;width:13.30px;top:984.30px;height:2.42px;background:#13435c;"></div>
<div class="b" style="left:918.30px;width:13.30px;top:984.30px;height:9.38px;background:#13435c;"></div>
<div class="b" style="left:934.40px;width:13.30px;top:982.79px;height:1.51px;background:#236790;"></div>
<div class="t" style="top:1010px;left:32.80px;transform:scaleX(0.8968);">Consolidated Net Income</div>
<div class="t" style="top:1010px;left:463.12px;transform:scaleX(0.8600);">5,649</div>
<div class="t" style="top:1010px;left:565.04px;transform:scaleX(0.8033);">831</div>
<div class="t" style="top:1010px;left:649.34px;transform:scaleX(0.8600);">(783)</div>
<div class="t" style="top:1010px;left:734.74px;transform:scaleX(0.8302);">(1,063)</div>
<div class="t" style="top:1010px;left:827.14px;transform:scaleX(0.8302);">(2,241)</div>
<div class="b" style="left:870.90px;width:12.10px;top:1020.40px;height:3.72px;background:#13435c;"></div>
<div class="b" style="left:886.10px;width:13.20px;top:1020.40px;height:1.76px;background:#13435c;"></div>
<div class="b" style="left:902.10px;width:13.30px;top:1020.40px;height:1.30px;background:#13435c;"></div>
<div class="b" style="left:918.30px;width:13.30px;top:1019.02px;height:1.38px;background:#236790;"></div>
<div class="b" style="left:934.40px;width:13.30px;top:1011.02px;height:9.38px;background:#236790;"></div>
<div class="t" style="top:1040px;left:31.87px;transform:scaleX(0.9328);">Minority Interest Expense</div>
<div class="t" style="top:1040px;left:472.74px;transform:scaleX(0.8033);">125</div>
<div class="t" style="top:1040px;left:566.06px;transform:scaleX(0.7467);">141</div>
<div class="t" style="top:1040px;left:661.38px;transform:scaleX(0.8600);">87</div>
<div class="t" style="top:1040px;left:746.60px;transform:scaleX(0.8600);">(86)</div>
<div class="t" style="top:1040px;left:833.84px;transform:scaleX(0.8600);">(279)</div>
<div class="b" style="left:870.90px;width:12.10px;top:1044.59px;height:9.38px;background:#13435c;"></div>
<div class="b" style="left:886.10px;width:13.20px;top:1044.59px;height:2.89px;background:#13435c;"></div>
<div class="b" style="left:902.10px;width:13.30px;top:1041.67px;height:2.92px;background:#236790;"></div>
<div class="b" style="left:918.30px;width:13.30px;top:1039.85px;height:4.74px;background:#236790;"></div>
<div class="b" style="left:934.40px;width:13.30px;top:1040.39px;height:4.20px;background:#236790;"></div>
<div class="t" style="top:1069px;left:31.89px;transform:scaleX(0.9089);">Net Income</div>
<div class="t" style="top:1069px;left:463.12px;transform:scaleX(0.8600);">5,524</div>
<div class="t" style="top:1069px;left:564.02px;transform:scaleX(0.8600);">690</div>
<div class="t" style="top:1069px;left:649.34px;transform:scaleX(0.8600);">(870)</div>
<div class="t" style="top:1069px;left:741.44px;transform:scaleX(0.8600);">(976)</div>
<div class="t" style="top:1069px;left:828.19px;transform:scaleX(0.8003);">(1,961)</div>
<div class="b" style="left:870.90px;width:12.10px;top:1079.27px;height:3.33px;background:#13435c;"></div>
<div class="b" style="left:886.10px;width:13.20px;top:1079.27px;height:1.66px;background:#13435c;"></div>
<div class="b" style="left:902.10px;width:13.30px;top:1079.27px;height:1.48px;background:#13435c;"></div>
<div class="b" style="left:918.30px;width:13.30px;top:1078.10px;height:1.17px;background:#236790;"></div>
<div class="b" style="left:934.40px;width:13.30px;top:1069.90px;height:9.38px;background:#236790;"></div>
<div class="t" style="top:1099px;left:45.98px;transform:scaleX(0.9211);">Net Income Growth</div>
<div class="t" style="top:1099px;left:450.95px;color:#549a54;transform:scaleX(0.8240);">700.58%</div>
<div class="t" style="top:1099px;left:545.35px;color:#549a54;transform:scaleX(0.7761);">179.31%</div>
<div class="t" style="top:1099px;left:641.67px;color:#549a54;transform:scaleX(0.7902);">10.87%</div>
<div class="t" style="top:1099px;left:732.71px;color:#549a54;transform:scaleX(0.8181);">50.23%</div>
<div class="t" style="top:1099px;left:853.62px;transform:scaleX(0.8600);">-</div>
<div class="b" style="left:886.10px;width:13.20px;top:1113.95px;height:1.34px;background:#236790;"></div>
<div class="b" style="left:902.10px;width:13.30px;top:1114.30px;height:1.00px;background:#236790;opacity:0.60"></div>
<div class="b" style="left:918.30px;width:13.30px;top:1110.50px;height:4.80px;background:#236790;"></div>
<div class="b" style="left:934.40px;width:13.30px;top:1096.55px;height:18.75px;background:#236790;"></div>
<div class="t" style="top:1129px;left:45.94px;transform:scaleX(0.9566);">Net Margin</div>
<div class="t" style="top:1129px;left:457.17px;color:#549a54;transform:scaleX(0.7902);">10.26%</div>
<div class="t" style="top:1129px;left:576.92px;transform:scaleX(0.8600);">-</div>
<div class="t" style="top:1129px;left:669.12px;transform:scaleX(0.8600);">-</div>
<div class="t" style="top:1129px;left:761.22px;transform:scaleX(0.8600);">-</div>
<div class="t" style="top:1129px;left:853.62px;transform:scaleX(0.8600);">-</div>
<div class="b" style="left:934.40px;width:13.30px;top:1126.55px;height:18.75px;background:#236790;"></div>
<div class="t" style="top:1158px;left:31.87px;transform:scaleX(0.9313);">Net Income After Extraordinaries</div>
<div class="t" style="top:1158px;left:463.12px;transform:scaleX(0.8600);">5,524</div>
<div class="t" style="top:1158px;left:564.02px;transform:scaleX(0.8600);">690</div>
<div class="t" style="top:1158px;left:649.34px;transform:scaleX(0.8600);">(870)</div>
<div class="t" style="top:1158px;left:741.44px;transform:scaleX(0.8600);">(976)</div>
<div class="t" style="top:1158px;left:828.19px;transform:scaleX(0.8003);">(1,961)</div>
<div class="b" style="left:870.90px;width:12.10px;top:1168.61px;height:3.33px;background:#13435c;"></div>
<div class="b" style="left:886.10px;width:13.20px;top:1168.61px;height:1.66px;background:#13435c;"></div>
<div class="b" style="left:902.10px;width:13.30px;top:1168.61px;height:1.48px;background:#13435c;"></div>
<div class="b" style="left:918.30px;width:13.30px;top:1167.44px;height:1.17px;background:#236790;"></div>
<div class="b" style="left:934.40px;width:13.30px;top:1159.24px;height:9.38px;background:#236790;"></div>
<div class="t" style="top:1188px;left:31.89px;transform:scaleX(0.9061);">Net Income Available to Common</div>
<div class="t" style="top:1188px;left:463.12px;transform:scaleX(0.8600);">5,524</div>
<div class="t" style="top:1188px;left:564.02px;transform:scaleX(0.8600);">690</div>
<div class="t" style="top:1188px;left:649.34px;transform:scaleX(0.8600);">(870)</div>
<div class="t" style="top:1188px;left:741.44px;transform:scaleX(0.8600);">(976)</div>
<div class="t" style="top:1188px;left:828.19px;transform:scaleX(0.8003);">(1,961)</div>
<div class="b" style="left:870.90px;width:12.10px;top:1197.95px;height:3.33px;background:#13435c;"></div>
<div class="b" style="left:886.10px;width:13.20px;top:1197.95px;height:1.66px;background:#13435c;"></div>
<div class="b" style="left:902.10px;width:13.30px;top:1197.95px;height:1.48px;background:#13435c;"></div>
<div class="b" style="left:918.30px;width:13.30px;top:1196.78px;height:1.17px;background:#236790;"></div>
<div class="b" style="left:934.40px;width:13.30px;top:1188.58px;height:9.38px;background:#236790;"></div>
<div class="t" style="top:1217px;left:31.91px;transform:scaleX(0.8898);">EPS (Basic)</div>
<div class="t" style="top:1217px;left:470.16px;transform:scaleX(0.8114);">1.63</div>
<div class="t" style="top:1217px;left:562.46px;transform:scaleX(0.8114);">0.21</div>
<div class="t" style="top:1217px;left:646.76px;transform:scaleX(0.8600);">(0.33)</div>
<div class="t" style="top:1217px;left:738.86px;transform:scaleX(0.8600);">(0.38)</div>
<div class="t" style="top:1217px;left:831.26px;transform:scaleX(0.8600);">(0.79)</div>
<div class="b" style="left:870.90px;width:12.10px;top:1226.69px;height:4.54px;background:#13435c;"></div>
<div class="b" style="left:886.10px;width:13.20px;top:1226.69px;height:2.19px;background:#13435c;"></div>
<div class="b" style="left:902.10px;width:13.30px;top:1226.69px;height:1.90px;background:#13435c;"></div>
<div class="b" style="left:918.30px;width:13.30px;top:1225.48px;height:1.21px;background:#236790;"></div>
<div class="b" style="left:934.40px;width:13.30px;top:1217.31px;height:9.38px;background:#236790;"></div>
<div class="t" style="top:1247px;left:45.99px;transform:scaleX(0.9092);">EPS (Basic) Growth</div>
<div class="t" style="top:1247px;left:450.95px;color:#549a54;transform:scaleX(0.8240);">667.84%</div>
<div class="t" style="top:1247px;left:544.30px;color:#549a54;transform:scaleX(0.8000);">164.97%</div>
<div class="t" style="top:1247px;left:641.67px;color:#549a54;transform:scaleX(0.7902);">14.33%</div>
<div class="t" style="top:1247px;left:733.77px;color:#549a54;transform:scaleX(0.7902);">51.62%</div>
<div class="t" style="top:1247px;left:853.62px;transform:scaleX(0.8600);">-</div>
<div class="b" style="left:886.10px;width:13.20px;top:1261.87px;height:1.45px;background:#236790;"></div>
<div class="b" style="left:902.10px;width:13.30px;top:1262.31px;height:1.00px;background:#236790;opacity:0.60"></div>
<div class="b" style="left:918.30px;width:13.30px;top:1258.68px;height:4.63px;background:#236790;"></div>
<div class="b" style="left:934.40px;width:13.30px;top:1244.56px;height:18.75px;background:#236790;"></div>
<div class="t" style="top:1277px;left:31.90px;transform:scaleX(0.9023);">Basic Shares Outstanding</div>
<div class="t" style="top:1277px;left:463.12px;transform:scaleX(0.8600);">2,958</div>
<div class="t" style="top:1277px;left:555.42px;transform:scaleX(0.8600);">2,799</div>
<div class="t" style="top:1277px;left:648.68px;transform:scaleX(0.8222);">2,661</div>
<div class="t" style="top:1277px;left:739.72px;transform:scaleX(0.8600);">2,558</div>
<div class="t" style="top:1277px;left:832.12px;transform:scaleX(0.8600);">2,486</div>
<div class="b" style="left:870.90px;width:12.10px;top:1277.56px;height:15.76px;background:#236790;"></div>
<div class="b" style="left:886.10px;width:13.20px;top:1277.10px;height:16.21px;background:#236790;"></div>
<div class="b" style="left:902.10px;width:13.30px;top:1276.45px;height:16.87px;background:#236790;"></div>
<div class="b" style="left:918.30px;width:13.30px;top:1275.57px;height:17.74px;background:#236790;"></div>
<div class="b" style="left:934.40px;width:13.30px;top:1274.56px;height:18.75px;background:#236790;"></div>
<div class="t" style="top:1306px;left:31.88px;transform:scaleX(0.9242);">EPS (Diluted)</div>
<div class="t" style="top:1306px;left:484.62px;transform:scaleX(0.8600);">-</div>
<div class="t" style="top:1306px;left:560.58px;transform:scaleX(0.8600);">0.64</div>
<div class="t" style="top:1306px;left:646.76px;transform:scaleX(0.8600);">(0.98)</div>
<div class="t" style="top:1306px;left:740.96px;transform:scaleX(0.7876);">(1.14)</div>
<div class="t" style="top:1306px;left:831.26px;transform:scaleX(0.8600);">(2.37)</div>
<div class="b" style="left:870.90px;width:12.10px;top:1310.19px;height:9.38px;background:#13435c;"></div>
<div class="b" style="left:886.10px;width:13.20px;top:1310.19px;height:4.51px;background:#13435c;"></div>
<div class="b" style="left:902.10px;width:13.30px;top:1310.19px;height:3.88px;background:#13435c;"></div>
<div class="b" style="left:918.30px;width:13.30px;top:1307.66px;height:2.53px;background:#236790;"></div>
<div class="t" style="top:1336px;left:45.98px;transform:scaleX(0.9208);">EPS (Diluted) Growth</div>
<div class="t" style="top:1336px;left:461.29px;transform:scaleX(0.8098);">0.00%</div>
<div class="t" style="top:1336px;left:544.30px;color:#549a54;transform:scaleX(0.8000);">164.96%</div>
<div class="t" style="top:1336px;left:641.67px;color:#549a54;transform:scaleX(0.7902);">14.32%</div>
<div class="t" style="top:1336px;left:733.77px;color:#549a54;transform:scaleX(0.7902);">51.63%</div>
<div class="t" style="top:1336px;left:853.62px;transform:scaleX(0.8600);">-</div>
<div class="b" style="left:886.10px;width:13.20px;top:1346.79px;height:5.87px;background:#236790;"></div>
<div class="b" style="left:902.10px;width:13.30px;top:1351.03px;height:1.63px;background:#236790;"></div>
<div class="b" style="left:918.30px;width:13.30px;top:1333.90px;height:18.75px;background:#236790;"></div>
<div class="t" style="top:1366px;left:31.88px;transform:scaleX(0.9215);">Diluted Shares Outstanding</div>
<div class="t" style="top:1366px;left:463.12px;transform:scaleX(0.8600);">3,387</div>
<div class="t" style="top:1366px;left:555.42px;transform:scaleX(0.8600);">3,249</div>
<div class="t" style="top:1366px;left:648.68px;transform:scaleX(0.8222);">2,661</div>
<div class="t" style="top:1366px;left:739.72px;transform:scaleX(0.8600);">2,558</div>
<div class="t" style="top:1366px;left:832.12px;transform:scaleX(0.8600);">2,486</div>
<div class="b" style="left:870.90px;width:12.10px;top:1368.89px;height:13.76px;background:#236790;"></div>
<div class="b" style="left:886.10px;width:13.20px;top:1368.49px;height:14.16px;background:#236790;"></div>
<div class="b" style="left:902.10px;width:13.30px;top:1367.92px;height:14.73px;background:#236790;"></div>
<div class="b" style="left:918.30px;width:13.30px;top:1364.67px;height:17.99px;background:#236790;"></div>
<div class="b" style="left:934.40px;width:13.30px;top:1363.90px;height:18.75px;background:#236790;"></div>
<div class="t" style="top:1396px;left:31.92px;transform:scaleX(0.8775);">EBITDA</div>
<div class="t" style="top:1396px;left:463.12px;transform:scaleX(0.8600);">9,407</div>
<div class="t" style="top:1396px;left:556.48px;transform:scaleX(0.8222);">4,316</div>
<div class="t" style="top:1396px;left:647.62px;transform:scaleX(0.8600);">2,234</div>
<div class="t" style="top:1396px;left:740.78px;transform:scaleX(0.8222);">1,648</div>
<div class="t" style="top:1396px;left:845.02px;transform:scaleX(0.8600);">(2)</div>
<div class="b" style="left:870.90px;width:12.10px;top:1407.64px;height:1.00px;background:#13435c;opacity:0.60"></div>
<div class="b" style="left:886.10px;width:13.20px;top:1405.99px;height:1.64px;background:#236790;"></div>
<div class="b" style="left:902.10px;width:13.30px;top:1405.41px;height:2.23px;background:#236790;"></div>
<div class="b" style="left:918.30px;width:13.30px;top:1403.34px;height:4.30px;background:#236790;"></div>
<div class="b" style="left:934.40px;width:13.30px;top:1398.26px;height:9.38px;background:#236790;"></div>
<div class="t" style="top:1425px;left:45.97px;transform:scaleX(0.9282);">EBITDA Growth</div>
<div class="t" style="top:1425px;left:453.19px;color:#549a54;transform:scaleX(0.7909);">117.96%</div>
<div class="t" style="top:1425px;left:548.41px;color:#549a54;transform:scaleX(0.8181);">93.20%</div>
<div class="t" style="top:1425px;left:640.61px;color:#549a54;transform:scaleX(0.8181);">35.54%</div>
<div class="t" style="top:1425px;left:716.38px;color:#549a54;transform:scaleX(0.8319);">98032.86%</div>
<div class="t" style="top:1425px;left:853.62px;transform:scaleX(0.8600);">-</div>
<div class="b" style="left:886.10px;width:13.20px;top:1423.24px;height:18.75px;background:#236790;"></div>
<div class="b" style="left:902.10px;width:13.30px;top:1440.99px;height:1.00px;background:#236790;opacity:0.60"></div>
<div class="b" style="left:918.30px;width:13.30px;top:1440.99px;height:1.00px;background:#236790;opacity:0.60"></div>
<div class="b" style="left:934.40px;width:13.30px;top:1440.99px;height:1.00px;background:#236790;opacity:0.60"></div>
<div class="t" style="top:1455px;left:45.98px;transform:scaleX(0.9250);">EBITDA Margin</div>
<div class="t" style="top:1455px;left:576.92px;transform:scaleX(0.8600);">-</div>
<div class="t" style="top:1455px;left:669.12px;transform:scaleX(0.8600);">-</div>
<div class="t" style="top:1455px;left:761.22px;transform:scaleX(0.8600);">-</div>
<div class="t" style="top:1455px;left:853.62px;transform:scaleX(0.8600);">-</div>
<div class="t" style="top:1484px;left:61.02px;transform:scaleX(0.8833);">EBIT</div>
<div class="t" style="top:1484px;left:463.12px;transform:scaleX(0.8600);">6,496</div>
<div class="t" style="top:1484px;left:556.48px;transform:scaleX(0.8222);">1,994</div>
<div class="t" style="top:1484px;left:669.12px;transform:scaleX(0.8600);">-</div>
<div class="t" style="top:1484px;left:741.44px;transform:scaleX(0.8600);">(253)</div>
<div class="t" style="top:1484px;left:827.14px;transform:scaleX(0.8302);">(1,638)</div>
<div class="b" style="left:870.90px;width:12.10px;top:1495.14px;height:2.36px;background:#13435c;"></div>
<div class="b" style="left:886.10px;width:13.20px;top:1495.14px;height:1.00px;background:#13435c;opacity:0.60"></div>
<div class="b" style="left:918.30px;width:13.30px;top:1492.26px;height:2.88px;background:#236790;"></div>
<div class="b" style="left:934.40px;width:13.30px;top:1485.76px;height:9.38px;background:#236790;"></div>
</body></html>
